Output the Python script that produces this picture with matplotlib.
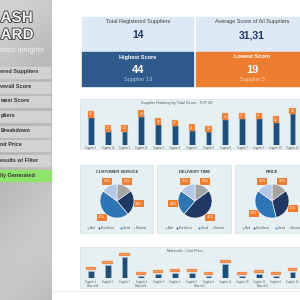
import numpy as np
import matplotlib.pyplot as plt
import matplotlib as mpl
from matplotlib.patches import Rectangle
import matplotlib.patheffects as path_effects

mpl.rcParams['font.family'] = ['Liberation Sans', 'DejaVu Sans']

# ---- data ----
# sidebar text as it shows in the cropped screenshot
menu_items = ['ered Suppliers', 'verall Score', 'west Score', 'pliers',
              'Breakdown', 'nit Price', 'esults w/ Filter', 'lly Generated']
total_suppliers = 14
avg_score = '31,31'
best_score, best_supplier = 44, 'Supplier 13'
worst_score, worst_supplier = 19, 'Supplier 5'

rank_names = ['Supplier 1', 'Supplier 14', 'Supplier 2', 'Supplier 12', 'Supplier 3', 'Supplier 4',
              'Supplier 6', 'Supplier 5', 'Supplier 8', 'Supplier 7', 'Supplier 9', 'Supplier 10',
              'Supplier 13']
rank_scores = [39, 20, 20, 40, 29, 27, 21, 19, 36, 37, 37, 32, 44]

pie_titles = ['CUSTOMER SERVICE', 'DELIVERY TIME', 'PRICE']
pie_cats = ['Bad', 'Excellent', 'Good', 'Neutral']
pie_values = [[15, 24, 46, 15],
              [15, 46, 24, 15],
              [15, 31, 39, 15]]

price_names = ['Supplier 1', 'Supplier 3', 'Supplier 7', 'Supplier 4', 'Supplier 9', 'Supplier 2',
               'Supplier 5', 'Supplier 8', 'Supplier 12', 'Supplier 10', 'Supplier 11', 'Supplier 6',
               'Supplier 14']
unit_prices = [65, 130, 205, 20, 35, 45, 50, 15, 140, 20, 35, 20, 60]
material_names = ['Material A', 'Material B', 'Material C', 'Material D']
material_pos = [0.1, 2.95, 6.45, 10.2]

# ---- colours ----
navy = '#1f3864'
bar_blue = '#1f4e79'
orange = '#ed7d31'
panel = '#e6f0f3'
pie_colors = ['#a5a5a5', '#1f3864', '#2e75b6', '#b4c7e7']


def px(x0, y0, x1, y1):
    return [x0 / 300, 1 - y1 / 300, (x1 - x0) / 300, (y1 - y0) / 300]


fig = plt.figure(figsize=(3, 3), dpi=100)
bg = fig.add_axes([0, 0, 1, 1])
bg.set_xlim(0, 300)
bg.set_ylim(300, 0)
bg.axis('off')

# sidebar gradient
yy, xx = np.mgrid[0:300, 0:52]
grad = 0.73 + 0.05 * np.cos((xx + yy) / 45.0) + 0.04 * (1 - yy / 300)
bg.imshow(grad, cmap='gray', vmin=0, vmax=1, extent=[0, 52, 300, 0], aspect='auto', zorder=0)

outline = [path_effects.withStroke(linewidth=1.2, foreground='#333333')]
bg.text(0.5, 18, 'ASH', ha='left', va='center', fontsize=11, fontweight='bold', color='#f4f4f4',
        path_effects=outline)
bg.text(0.5, 35, 'ARD', ha='left', va='center', fontsize=11, fontweight='bold', color='#f4f4f4',
        path_effects=outline)
bg.text(0.5, 50, 'ated Insights', ha='left', va='center', fontsize=5.5, color='#f0f0f0')

menu_y = [72, 87, 101, 116, 131, 145, 160, 175]
for i, lab in enumerate(menu_items):
    last = i == len(menu_items) - 1
    bg.add_patch(Rectangle((0, menu_y[i] - 5.5), 51 if last else 50, 11,
                           color='#8fe36b' if last else '#d2d2d2', zorder=1))
    bg.text(0.5, menu_y[i], lab, ha='left', va='center', fontsize=4,
            fontweight='bold', color='#333333', zorder=2)

# KPI cards
bg.add_patch(Rectangle((82, 17), 111, 34, color='#dde9f5'))
bg.add_patch(Rectangle((196, 17), 112, 34, color='#dde9f5'))
bg.add_patch(Rectangle((82, 52), 111, 34, color='#2e5a8c'))
bg.add_patch(Rectangle((196, 52), 112, 34, color=orange))
bg.text(138, 22, 'Total Registered Suppliers', ha='center', va='center', fontsize=4, color='#404040')
bg.text(138, 35, str(total_suppliers), ha='center', va='center', fontsize=7.5, fontweight='bold', color=navy)
bg.text(252, 22, 'Average Score of All Suppliers', ha='center', va='center', fontsize=4, color='#404040')
bg.text(252, 35, avg_score, ha='center', va='center', fontsize=7.5, fontweight='bold', color=navy)
bg.text(138, 57, 'Highest Score', ha='center', va='center', fontsize=4, fontweight='bold', color='white')
bg.text(138, 70, str(best_score), ha='center', va='center', fontsize=8, fontweight='bold', color='white')
bg.text(138, 80, best_supplier, ha='center', va='center', fontsize=4, color='#b4c7e7')
bg.text(252, 57, 'Lowest Score', ha='center', va='center', fontsize=4, fontweight='bold', color='white')
bg.text(252, 70, str(worst_score), ha='center', va='center', fontsize=8, fontweight='bold', color='white')
bg.text(252, 80, worst_supplier, ha='center', va='center', fontsize=4, color='#fbd5b5')

# panels
for (x0, y0, x1, y1) in [(80, 99, 306, 149), (80, 165, 153, 233), (157, 165, 231, 233),
                         (235, 165, 310, 233), (80, 247, 306, 288)]:
    bg.add_patch(Rectangle((x0, y0), x1 - x0, y1 - y0, facecolor=panel, edgecolor='#d3e0e5', lw=0.5))
bg.plot([52, 300], [291, 291], color='#e4e4e4', lw=0.5)

# ranking bar chart (bar spacing ~16.8 px)
ax = fig.add_axes(px(80, 99, 300, 145))
ax.set_facecolor('none')
n = len(rank_scores)
ax.bar(np.arange(n), rank_scores, width=0.34, color=bar_blue, edgecolor='#9dc3e6', lw=0.4)
for i, v in enumerate(rank_scores):
    ax.text(i, v + 3, str(v), ha='center', va='center', fontsize=2.3, color='white',
            bbox=dict(boxstyle='square,pad=0.4', fc=orange, ec='#f4b183', lw=0.3))
ax.set_xlim(-0.65, 12.45)
ax.set_ylim(0, 63.3)
ax.set_xticks(np.arange(n))
ax.set_xticklabels(rank_names, fontsize=1.8, color='#595959')
ax.tick_params(length=0, pad=1)
ax.set_yticks([])
for s in ax.spines.values():
    s.set_visible(False)
bg.text(177, 103, 'Supplier Ranking by Total Score - TOP 20', ha='center', va='center',
        fontsize=2.8, color='#595959')

# pies
pie_cx = [117, 195, 272]
for k in range(3):
    cx, cy, r = pie_cx[k], 201, 17
    pa = fig.add_axes(px(cx - 20, cy - 20, cx + 20, cy + 20))
    pa.set_facecolor('none')
    wedges, _ = pa.pie(pie_values[k], colors=pie_colors, startangle=90, counterclock=False,
                       radius=r / 20, wedgeprops=dict(edgecolor='white', linewidth=0.4))
    pa.set_xlim(-1, 1)
    pa.set_ylim(-1, 1)
    pa.set_aspect('equal')
    pa.axis('off')
    for w, v in zip(wedges, pie_values[k]):
        ang = np.deg2rad((w.theta1 + w.theta2) / 2)
        bg.text(cx + 1.3 * r * np.cos(ang), cy - 1.3 * r * np.sin(ang), f'{v}%',
                ha='center', va='center', fontsize=2.6, color='white',
                bbox=dict(boxstyle='square,pad=0.4', fc=orange, ec='none'))
    bg.text(cx, 172, pie_titles[k], ha='center', va='center', fontsize=3, fontweight='bold',
            color='#404040')
    lx = cx - 29
    for c, name in zip(pie_colors, pie_cats):
        bg.plot(lx, 228, 's', ms=1.2, color=c, mec='none')
        bg.text(lx + 2, 228, name, ha='left', va='center', fontsize=2.4, color='#595959')
        lx += 4.5 + 2.0 * len(name)

# unit price bar chart
bx = fig.add_axes(px(80, 247, 300, 277.5))
bx.set_facecolor('none')
m = len(unit_prices)
bx.bar(np.arange(m), unit_prices, width=0.34, color=bar_blue, edgecolor='#9dc3e6', lw=0.4)
for i, v in enumerate(unit_prices):
    bx.text(i, v + 22, '€ ' + f'{v:.2f}'.replace('.', ','), ha='center', va='center', fontsize=1.7,
            color='white', bbox=dict(boxstyle='square,pad=0.35', fc=orange, ec='#f4b183', lw=0.3))
bx.set_xlim(-0.65, 12.45)
bx.set_ylim(0, 305)
bx.set_xticks(np.arange(m))
bx.set_xticklabels(price_names, fontsize=1.8, color='#595959')
bx.tick_params(length=0, pad=1.5)
bx.set_yticks([])
for s in bx.spines.values():
    s.set_visible(False)
for name, p in zip(material_names, material_pos):
    bx.text(p, -0.28, name, transform=bx.get_xaxis_transform(), ha='center', va='center',
            fontsize=1.8, color='#595959')
bg.text(185, 251, 'Materials - Unit Price', ha='center', va='center', fontsize=2.8, color='#595959')

plt.savefig('out.png', dpi=100)
